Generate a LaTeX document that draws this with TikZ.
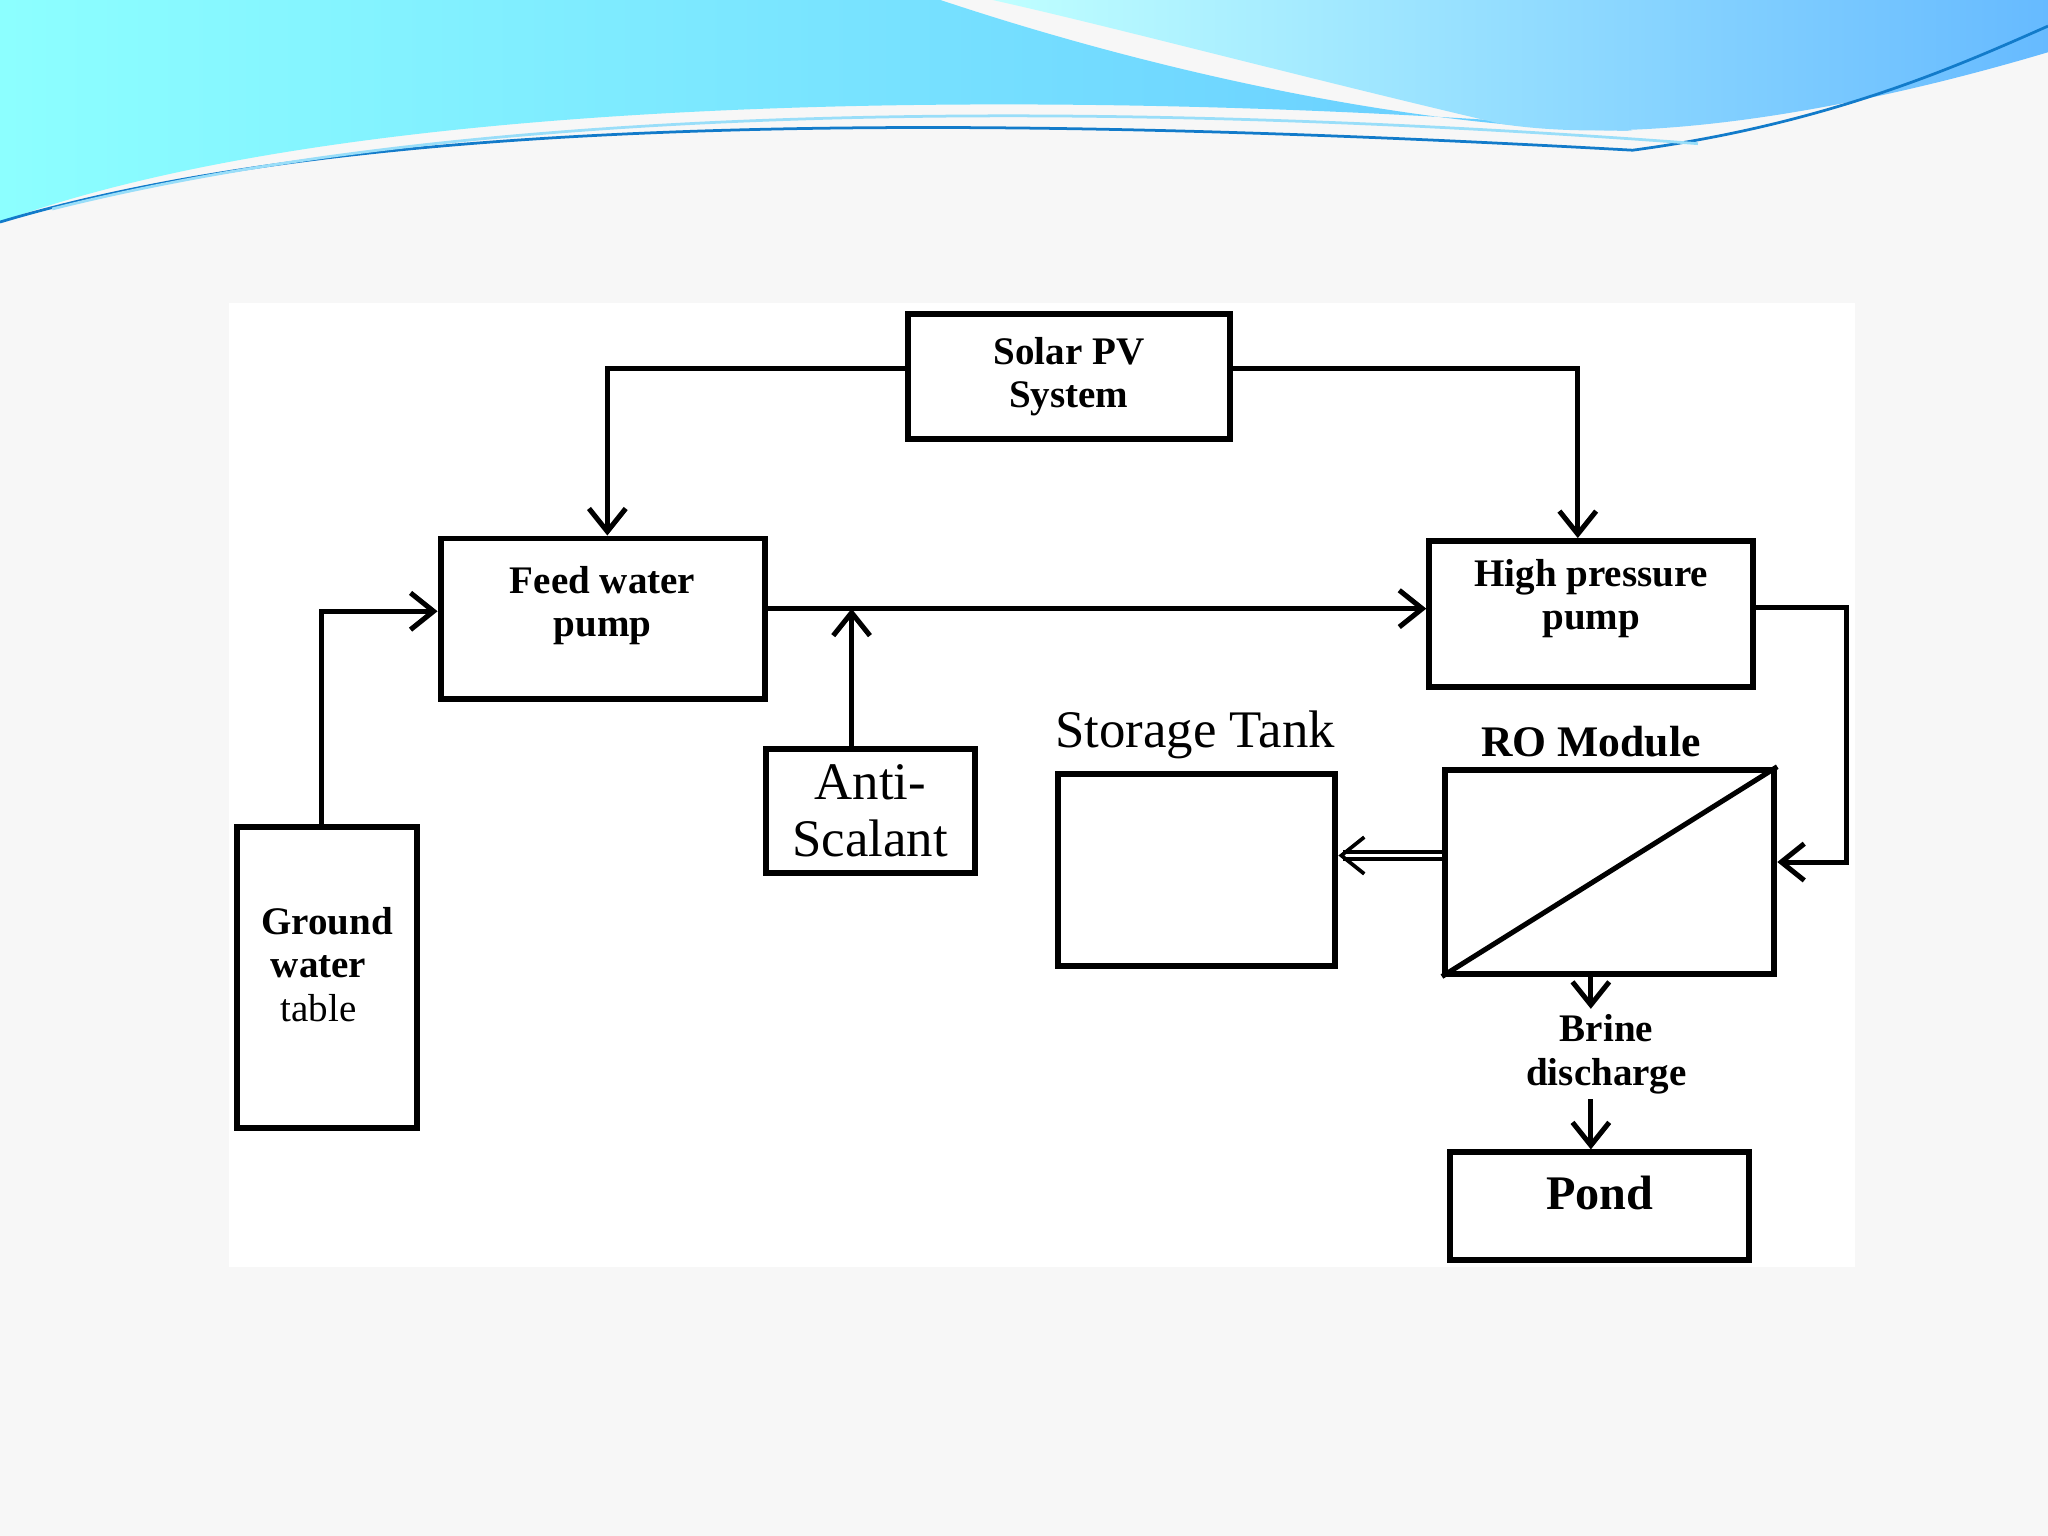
\documentclass[tikz,border=0pt]{standalone}
\usepackage{fontspec}
\setmainfont{Liberation Serif}
\usetikzlibrary{arrows.meta}
\begin{document}
\begin{tikzpicture}[x=0.01cm,y=-0.01cm,
  box/.style={draw,line width=1.3pt,inner sep=0pt},
  lbl/.style={font=\bfseries\fontsize{8.5}{9.5}\selectfont,align=center},
  big/.style={font=\fontsize{11.5}{12.5}\selectfont,align=center},
  con/.style={line width=1.1pt,-{Straight Barb[length=5pt,width=8pt]}},
  ln/.style={line width=1.1pt}]
\useasboundingbox (0,0) rectangle (1568,1176);
\fill[gray!6] (0,0) rectangle (1568,1176);
\fill[white] (175,232) rectangle (1420,970);
% header wave
\shade[left color=cyan!45!white,right color=blue!35!cyan!60!white] (0,0) -- (720,0) .. controls (900,60) and (1100,100) .. (1250,100) .. controls (900,70) and (300,60) .. (0,170) -- cycle;
\shade[left color=cyan!25!white,right color=cyan!55!blue!60!white] (760,0) -- (1568,0) -- (1568,40) .. controls (1400,90) and (1250,110) .. (1150,95) .. controls (1000,60) and (850,20) .. (760,0) -- cycle;
\draw[cyan!60!blue,line width=0.6pt] (0,170) .. controls (300,80) and (800,90) .. (1250,115) .. controls (1400,95) and (1500,50) .. (1568,20);
\draw[cyan!40,line width=0.6pt] (40,160) .. controls (400,70) and (900,80) .. (1300,110);
% nodes
\node[box,minimum width=2.46cm,minimum height=0.96cm,anchor=north west] (solar) at (693,238) {};
\node[lbl] at (solar.center) {Solar PV\\System};
\node[box,minimum width=2.48cm,minimum height=1.23cm,anchor=north west] (feed) at (335,410) {};
\node[lbl] at ([yshift=0.1cm]feed.center) {Feed water\\pump};
\node[box,minimum width=2.48cm,minimum height=1.12cm,anchor=north west] (hp) at (1092,412) {};
\node[lbl] at ([yshift=0.12cm]hp.center) {High pressure\\pump};
\node[box,minimum width=1.6cm,minimum height=0.95cm,anchor=north west] (anti) at (584,571) {};
\node[big] at (anti.center) {Anti-\\Scalant};
\node[box,minimum width=2.12cm,minimum height=1.47cm,anchor=north west] (tank) at (808,590) {};
\node[big] (tanklbl) at (915,563) {Storage Tank};
\node[box,minimum width=2.52cm,minimum height=1.56cm,anchor=north west] (ro) at (1104,587) {};
\node[lbl,font=\bfseries\fontsize{9.5}{10}\selectfont] (rolbl) at (1218,568) {RO Module};
\draw[ln] (ro.south west) -- (ro.north east);
\node[box,minimum width=1.38cm,minimum height=2.3cm,anchor=north west] (gw) at (179,631) {};
\node[lbl,align=left] at ([yshift=0.1cm]gw.center) {Ground\\\ water\\\ \ \mdseries table};
\node[box,minimum width=2.29cm,minimum height=0.82cm,anchor=north west] (pond) at (1108,880) {};
\node[lbl,font=\bfseries\fontsize{10.5}{11}\selectfont] at ([yshift=0.1cm]pond.center) {Pond};
\node[lbl,inner sep=1pt] (brine) at (1230,807) {Brine\\discharge};
% connectors
\draw[con] (solar.west |- 0,282) -| (feed.north -| 465,0);
\draw[con] (solar.east |- 0,282) -| (hp.north -| 1208,0);
\draw[con] (gw.north -| 246,0) |- (feed.west |- 0,468);
\draw[con] (feed.east |- 0,466) -- (hp.west |- 0,466);
\draw[con] (anti.north -| 652,0) -- (652,466);
\draw[con] (hp.east |- 0,465) -| (1414,660) -- (ro.east |- 0,660);
\draw[double,line width=0.8pt,-{Straight Barb[length=5pt,width=8pt]}] (ro.west |- 0,655) -- (tank.east |- 0,655);
\draw[con] (ro.south -| 1218,0) -- (brine.north -| 1218,0);
\draw[con] (brine.south -| 1218,0) -- (pond.north -| 1218,0);
\end{tikzpicture}
\end{document}
